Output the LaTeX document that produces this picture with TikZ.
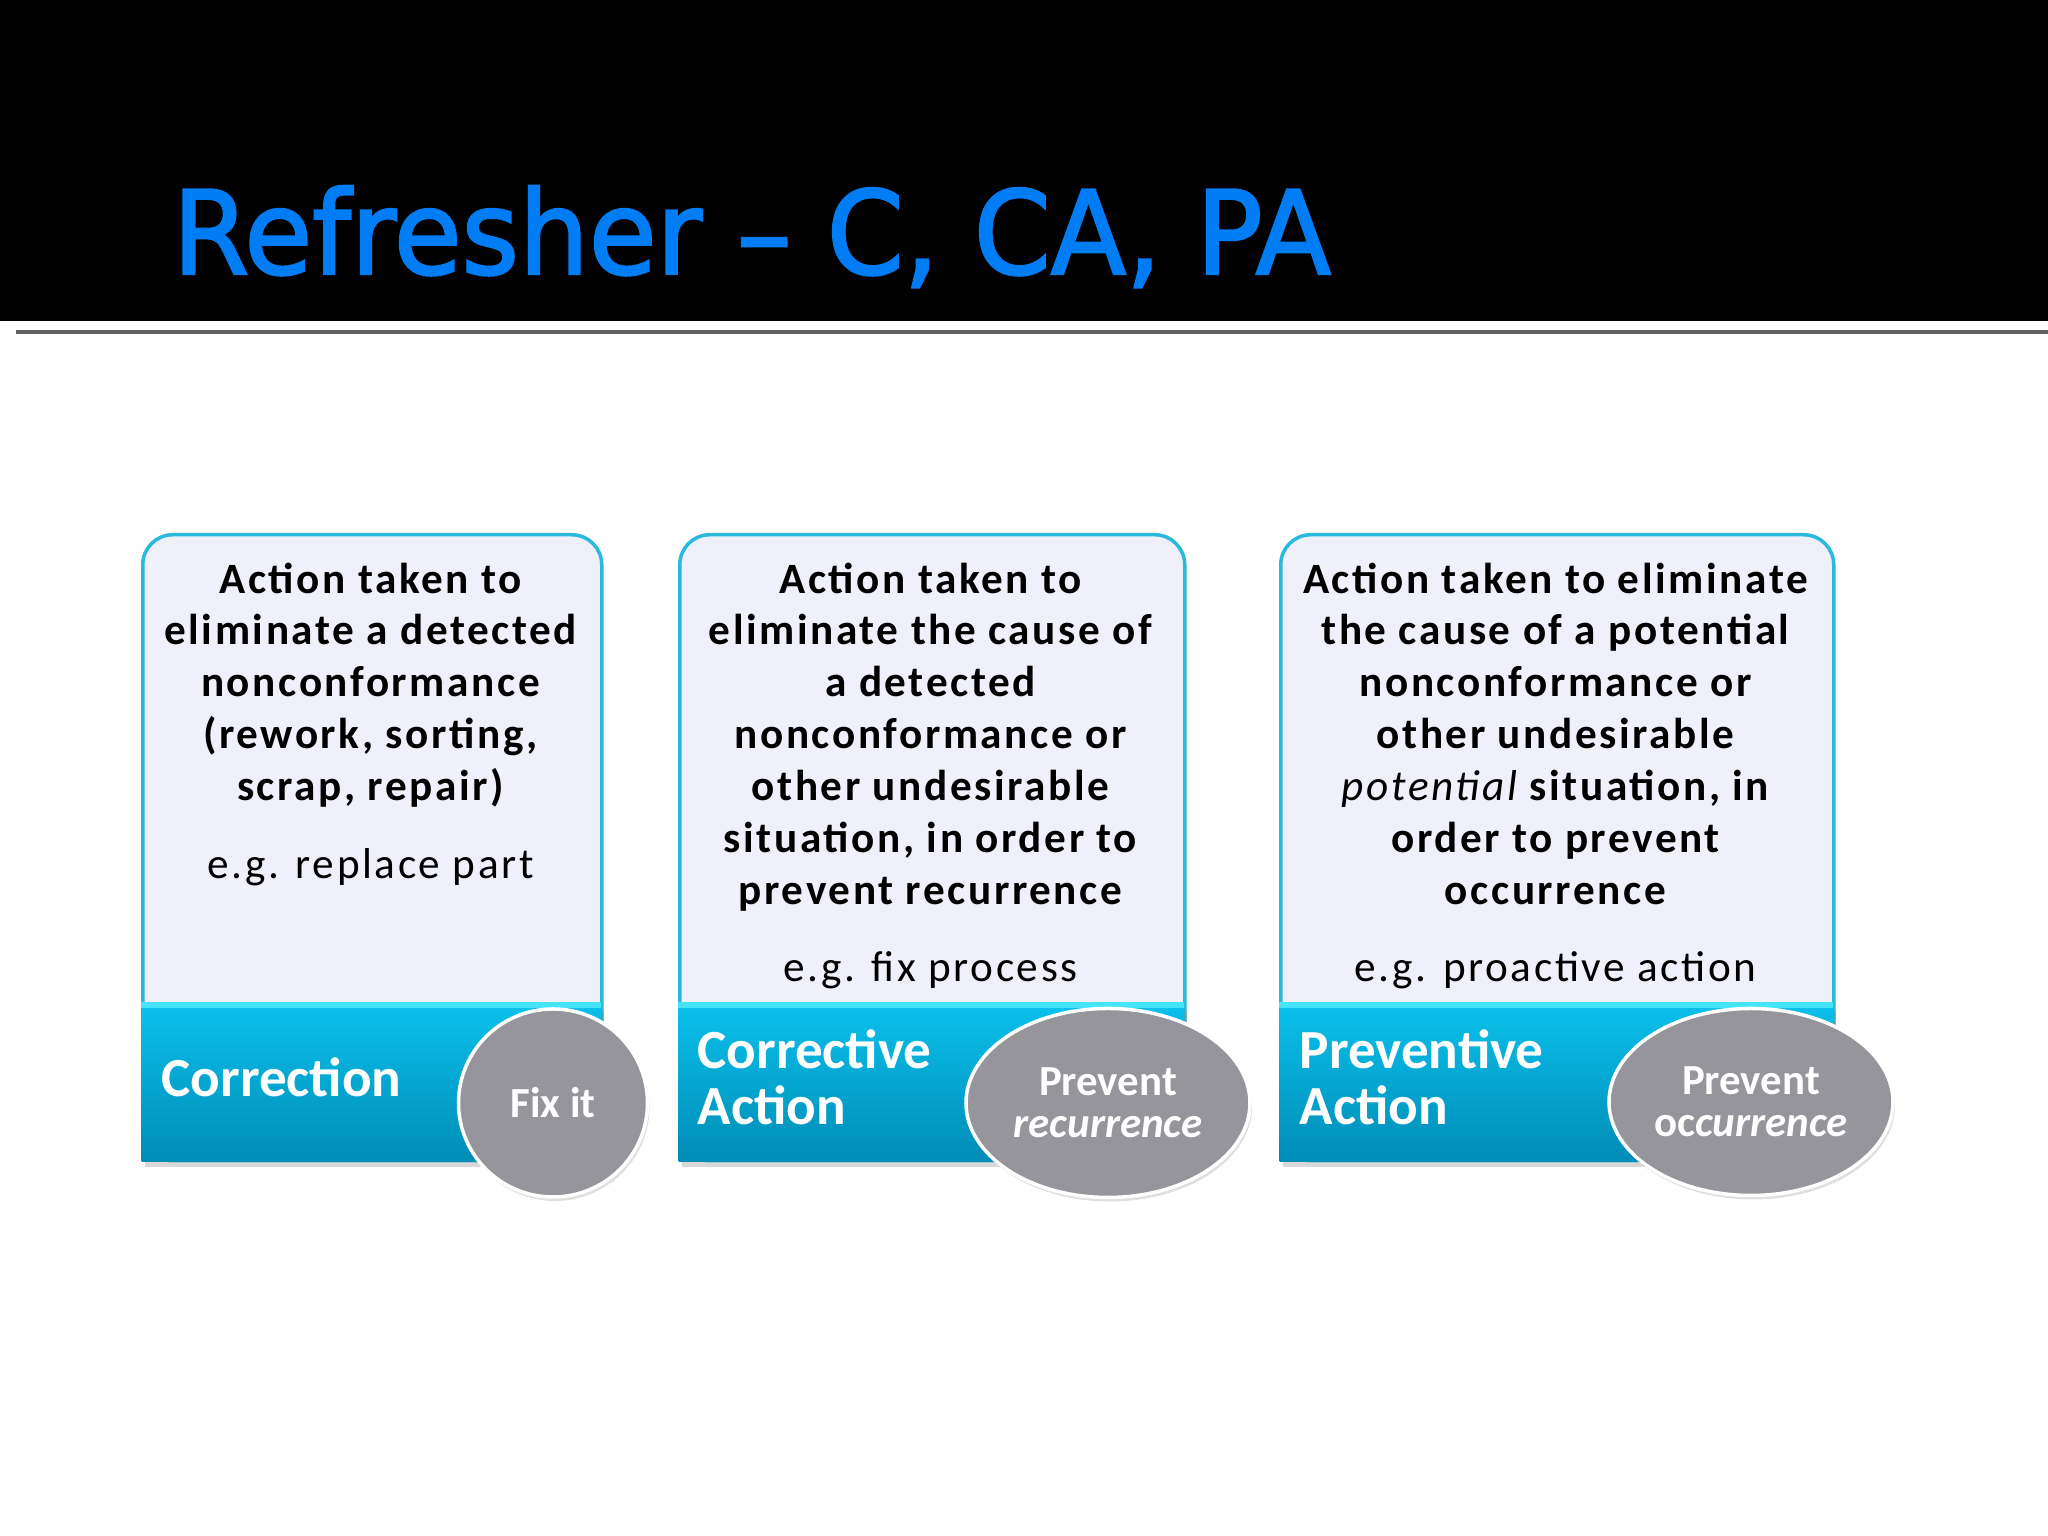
\documentclass[tikz,border=0pt]{standalone}
\usepackage{fontspec}
\setmainfont{Carlito}
\newfontfamily\titlefont[FakeStretch=0.95,FakeBold=2]{DejaVu Sans}
\newfontfamily\cardfont[LetterSpace=6]{Carlito}
\usetikzlibrary{positioning,shadows,shapes.geometric}

\definecolor{titleblue}{RGB}{0,125,245}
\definecolor{cardfill}{RGB}{240,240,250}
\definecolor{cardline}{RGB}{40,185,220}
\definecolor{bandtop}{RGB}{10,192,235}
\definecolor{bandbot}{RGB}{0,140,182}
\definecolor{bandedge}{RGB}{70,228,250}
\definecolor{blobgray}{RGB}{150,149,156}

\begin{document}
\begin{tikzpicture}[
		card/.style={
			draw=cardline,
			line width=1pt,
			fill=cardfill,
			rounded corners=0.3cm,
			minimum width=#1,
			minimum height=6.26cm,
			inner sep=0pt,
			anchor=north west
		},
		band/.style={
			top color=bandtop,
			bottom color=bandbot,
			minimum width=#1,
			minimum height=1.56cm,
			inner sep=0pt,
			anchor=south west,
			drop shadow={shadow xshift=0.03cm,shadow yshift=-0.05cm,opacity=0.3}
		},
		blob/.style={
			ellipse,
			fill=blobgray,
			draw=white,
			line width=1pt,
			inner sep=0pt,
			align=center,
			text=white,
			font=\bfseries\fontsize{12.2}{11.8}\selectfont,
			drop shadow={shadow xshift=0.02cm,shadow yshift=-0.04cm,opacity=0.25}
		},
		desc/.style={
			anchor=north,
			align=center,
			inner sep=0pt,
			font=\cardfont\bfseries\fontsize{12.3}{14.75}\selectfont
		},
		tag/.style={
			anchor=west,
			align=left,
			inner sep=0pt,
			text=white,
			font=\bfseries\fontsize{15.7}{15.9}\selectfont
		}
		]
		
		\useasboundingbox (0,0) rectangle (20.48,15.36);
		\fill[white] (0,0) rectangle (20.48,15.36);
		
		%--------------------------------------------------
		% Header
		%--------------------------------------------------
		
		\fill[black] (0,12.15) rectangle (20.48,15.36);
		\draw[line width=0.9pt,gray!75!black] (0.16,12.04) -- (20.48,12.04);
		
		\node (title) [anchor=base west,inner sep=0pt,text=titleblue,
		font=\titlefont\fontsize{33}{33}\selectfont] at (1.72,12.62)
		{Refresher – C, CA, PA};
		
		%--------------------------------------------------
		% Cards
		%--------------------------------------------------
		
		\node (corr) [card=4.59cm] at (1.41,10.03) {};
		\node (cact) [card=5.05cm] at (6.78,10.03) {};
		\node (pact) [card=5.53cm] at (12.79,10.03) {};
		
		\node (corrband) [band=4.59cm] at (corr.south west) {};
		\node (cactband) [band=5.05cm] at (cact.south west) {};
		\node (pactband) [band=5.53cm] at (pact.south west) {};
		
		\draw[bandedge,line width=1.5pt] (corrband.north west) -- (corrband.north east);
		\draw[bandedge,line width=1.5pt] (cactband.north west) -- (cactband.north east);
		\draw[bandedge,line width=1.5pt] (pactband.north west) -- (pactband.north east);
		
		%--------------------------------------------------
		% Definitions
		%--------------------------------------------------
		
		\node (corrtext) [desc] at (3.705,9.74)
		{Action taken to\\
			eliminate a detected\\
			nonconformance\\
			(rework, sorting,\\
			scrap, repair)\\[7.4pt]
			{\mdseries e.g. replace part}};
		
		\node (cacttext) [desc] at (9.305,9.74)
		{Action taken to\\
			eliminate the cause of\\
			a detected\\
			nonconformance or\\
			other undesirable\\
			situation, in order to\\
			prevent recurrence\\[7.4pt]
			{\mdseries e.g. fix process}};
		
		\node (pacttext) [desc] at (15.555,9.74)
		{Action taken to eliminate\\
			the cause of a potential\\
			nonconformance or\\
			other undesirable\\
			{\mdseries\itshape potential} situation, in\\
			order to prevent\\
			occurrence\\[7.4pt]
			{\mdseries e.g. proactive action}};
		
		%--------------------------------------------------
		% Band labels
		%--------------------------------------------------
		
		\node (corrtag) [tag] at (1.61,4.59) {Correction};
		\node (cacttag) [tag] at (6.97,4.59) {Corrective\\Action};
		\node (pacttag) [tag] at (12.99,4.59) {Preventive\\Action};
		
		%--------------------------------------------------
		% Goals
		%--------------------------------------------------
		
		\node (fix) [blob,minimum width=1.89cm,minimum height=1.88cm]
		at (5.53,4.33) {Fix it};
		
		\node (recur) [blob,minimum width=2.84cm,minimum height=1.89cm]
		at (11.08,4.33) {Prevent\\\textit{recurrence}};
		
		\node (occur) [blob,minimum width=2.84cm,minimum height=1.87cm]
		at (17.51,4.34) {Prevent\\oc\textit{currence}};
		
	\end{tikzpicture}
\end{document}
